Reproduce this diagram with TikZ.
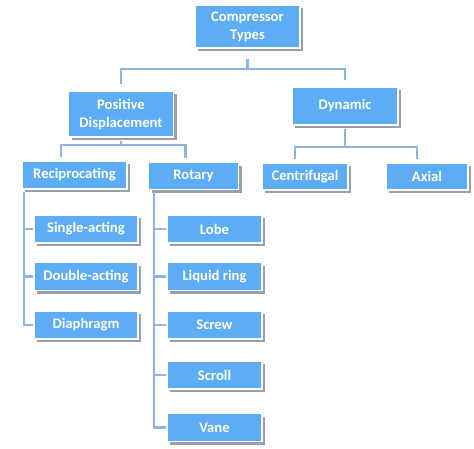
\documentclass[tikz,border=0pt]{standalone}
\usepackage{fontspec}
\setmainfont{Carlito}
\definecolor{boxblue}{RGB}{92,172,246}
\definecolor{linkblue}{RGB}{141,180,228}
\definecolor{shadowgray}{RGB}{150,160,175}
\tikzset{every picture/.style={line width=0.75pt}}
\tikzset{
  box/.style={fill=boxblue, draw=white, line width=1.2pt, text=white, inner sep=0pt, align=center,
    font=\fontsize{11}{13.5}\selectfont\bfseries,
    preaction={fill=shadowgray, transform canvas={shift={(2.6pt,-2.6pt)}}}},
  link/.style={draw=linkblue, line width=1.6pt}
}

\begin{document}
\begin{tikzpicture}[x=0.75pt,y=0.75pt,yscale=-1,xscale=1]
  \useasboundingbox (0,0) rectangle (474,449);

  %Top level
  \node[box, minimum width=78.75pt, minimum height=32.25pt] (types) at (247.5,26.5) {Compressor\\Types};
  \node[box, minimum width=78.75pt, minimum height=34.5pt] (pd) at (121,114) {Positive\\Displacement};
  \node[box, minimum width=79.5pt, minimum height=28.5pt] (dyn) at (345,106) {Dynamic};

  %Second level
  \node[box, minimum width=78.75pt, minimum height=21pt] (rec) at (74.5,175) {Reciprocating};
  \node[box, minimum width=67.5pt, minimum height=20.25pt] (rot) at (193.5,176) {Rotary};
  \node[box, minimum width=64.5pt, minimum height=20.25pt] (cen) at (305,176.5) {Centrifugal};
  \node[box, minimum width=61.5pt, minimum height=20.25pt] (axi) at (427,176.5) {Axial};

  %Reciprocating types
  \node[box, minimum width=78pt, minimum height=21pt] (sing) at (86,229) {Single-acting};
  \node[box, minimum width=78pt, minimum height=21pt] (dbl) at (86,276.5) {Double-acting};
  \node[box, minimum width=78pt, minimum height=21pt] (dia) at (86,325) {Diaphragm};

  %Rotary types
  \node[box, minimum width=71.25pt, minimum height=21pt] (lobe) at (214.5,229) {Lobe};
  \node[box, minimum width=71.25pt, minimum height=21pt] (liq) at (214.5,276.5) {Liquid ring};
  \node[box, minimum width=71.25pt, minimum height=21pt] (scw) at (214.5,325) {Screw};
  \node[box, minimum width=71.25pt, minimum height=21pt] (scl) at (214.5,375) {Scroll};
  \node[box, minimum width=71.25pt, minimum height=21pt] (vane) at (214.5,427.5) {Vane};

  %Connectors
  \coordinate (jtop) at (247.5,69);
  \coordinate (jpd) at (121,145);
  \coordinate (jdyn) at (345,147);
  \draw[link, shorten <=8pt] (types.south) -- (jtop);
  \draw[link, shorten <=4.5pt, shorten >=4.5pt] (pd.north) |- (jtop) -| (dyn.north);
  \draw[link, shorten <=2.5pt] (pd.south) -- (jpd);
  \draw[link, shorten <=2.5pt, shorten >=2.5pt] ([xshift=-10pt]rec.north) |- (jpd) -| ([xshift=-6pt]rot.north);
  \draw[link, shorten <=2.5pt] (dyn.south) -- (jdyn);
  \draw[link, shorten <=2.5pt, shorten >=2.5pt] ([xshift=-7.5pt]cen.north) |- (jdyn) -| ([xshift=-7.5pt]axi.north);

  %Spines
  \coordinate (sl) at (24,192);
  \coordinate (sr) at (154,192);
  \draw[link] (sl) |- (dia.west);
  \draw[link] (sl |- sing.west) -- (sing.west);
  \draw[link] (sl |- dbl.west) -- (dbl.west);
  \draw[link] (sr) |- (vane.west);
  \draw[link] (sr |- lobe.west) -- (lobe.west);
  \draw[link] (sr |- liq.west) -- (liq.west);
  \draw[link] (sr |- scw.west) -- (scw.west);
  \draw[link] (sr |- scl.west) -- (scl.west);
\end{tikzpicture}
\end{document}
